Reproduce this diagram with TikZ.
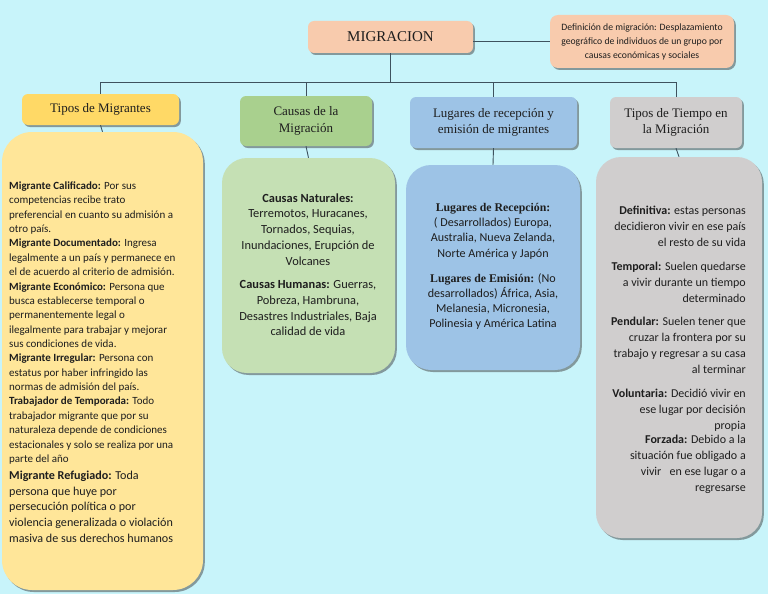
\documentclass[tikz,border=0pt]{standalone}
\usepackage{fontspec}
\setmainfont{Carlito}
\newfontfamily\serifhd{Liberation Serif}
\usetikzlibrary{shadows}
\definecolor{bg}{RGB}{200,244,250}
\definecolor{peach}{RGB}{248,203,173}
\definecolor{hdyellow}{RGB}{255,217,102}
\definecolor{lightyellow}{RGB}{255,230,153}
\definecolor{hdgreen}{RGB}{169,208,142}
\definecolor{lightgreen}{RGB}{197,224,180}
\definecolor{hdblue}{RGB}{157,195,230}
\definecolor{hdgray}{RGB}{208,206,206}
\definecolor{linecol}{RGB}{62,82,94}
\definecolor{txt}{RGB}{30,30,30}
\begin{document}
\begin{tikzpicture}[x=1pt,y=-1pt,
  shbox/.style={draw=none, inner sep=0pt, rounded corners=#1,
    drop shadow={shadow xshift=1.8pt, shadow yshift=-2pt, opacity=0.5, fill=black!75}},
  hdbox/.style={shbox=6pt, align=center, text=txt,
    font=\serifhd\fontsize{13}{16.5}\selectfont},
  conn/.style={draw=linecol, line width=0.9pt},
  bodytxt/.style={inner sep=0pt, text=txt},
]
\fill[bg] (0,0) rectangle (768,594);
\useasboundingbox (0,0) rectangle (768,594);

% top
\node[hdbox, fill=peach, minimum width=165pt, minimum height=32pt,
  font=\serifhd\fontsize{15}{18}\selectfont] (mig) at (390.5,37) {MIGRACION};
\node[shbox=8pt, fill=peach, minimum width=184pt, minimum height=53pt, align=center,
  text=txt, font=\fontsize{9.7}{14}\selectfont] (def) at (642,41.5)
  {Definición de migración: Desplazamiento\\geográfico de individuos de un grupo por\\causas económicas y sociales};

% headers
\node[hdbox, fill=hdyellow, minimum width=157pt, minimum height=31pt] (h1) at (100.5,109.5) {Tipos de Migrantes};
\node[hdbox, fill=hdgreen, minimum width=132pt, minimum height=50pt] (h2) at (306,121) {Causas de la\\Migración};
\node[hdbox, fill=hdblue, minimum width=167pt, minimum height=51pt] (h3) at (493.5,122.5) {Lugares de recepción y\\emisión de migrantes};
\node[hdbox, fill=hdgray, minimum width=132pt, minimum height=51pt] (h4) at (676,122.5) {Tipos de Tiempo en\\la Migración};

% content boxes
\node[shbox=30pt, fill=lightyellow, minimum width=201pt, minimum height=458pt] (c1) at (102.5,361) {};
\node[shbox=25pt, fill=lightgreen, minimum width=173pt, minimum height=215pt] (c2) at (308.5,265.5) {};
\node[shbox=25pt, fill=hdblue, minimum width=174pt, minimum height=205pt] (c3) at (493,267.5) {};
\node[shbox=25pt, fill=hdgray, minimum width=166pt, minimum height=381pt] (c4) at (679,347.5) {};

% connectors
\coordinate (busL) at (100.5,82);
\coordinate (busR) at (676,82);
\draw[conn] (mig.south) -- (mig.south |- busL);
\draw[conn] (busL) -- (busR);
\draw[conn] (busL) -- (h1.north);
\draw[conn] (h2.north |- busL) -- (h2.north);
\draw[conn] (h3.north |- busL) -- (h3.north);
\draw[conn] (busR) -- (h4.north);
\draw[conn] (mig.east |- def.west) -- (def.west);
\draw[conn] (h1.south) -- (c1.north);
\draw[conn] (h2.south) -- (c2.north);
\draw[conn] (h3.south) -- (c3.north);
\draw[conn] (h4.south) -- (c4.north);

% texts
\node[bodytxt, anchor=north west, align=left, font=\fontsize{11}{14.37}\selectfont] (t1a) at (9,181.5)
{\textbf{Migrante Calificado:} Por sus\\
competencias recibe trato\\
preferencial en cuanto su admisión a\\
otro país.\\
\textbf{Migrante Documentado:} Ingresa\\
legalmente a un país y permanece en\\
el de acuerdo al criterio de admisión.\\
\textbf{Migrante Económico:} Persona que\\
busca establecerse temporal o\\
permanentemente legal o\\
ilegalmente para trabajar y mejorar\\
sus condiciones de vida.\\
\textbf{Migrante Irregular:} Persona con\\
estatus por haber infringido las\\
normas de admisión del país.\\
\textbf{Trabajador de Temporada:} Todo\\
trabajador migrante que por su\\
naturaleza depende de condiciones\\
estacionales y solo se realiza por una\\
parte del año};
\node[bodytxt, anchor=north west, align=left, font=\fontsize{12.1}{15.75}\selectfont] (t1b) at (9,470.8)
{\textbf{Migrante Refugiado:} Toda\\
persona que huye por\\
persecución política o por\\
violencia generalizada o violación\\
masiva de sus derechos humanos};

\node[bodytxt, anchor=north, align=center, font=\fontsize{12.4}{15.7}\selectfont] (t2) at (308,193.3)
{\textbf{Causas Naturales:}\\
Terremotos, Huracanes,\\
Tornados, Sequias,\\
Inundaciones, Erupción de\\
Volcanes\\[8pt]
\textbf{Causas Humanas:} Guerras,\\
Pobreza, Hambruna,\\
Desastres Industriales, Baja\\
calidad de vida};

\node[bodytxt, anchor=north, align=center, font=\fontsize{12.1}{15.2}\selectfont] (t3) at (493,203)
{{\bfseries\serifhd\fontsize{11.8}{15.2}\selectfont Lugares de Recepción:}\\
( Desarrollados) Europa,\\
Australia, Nueva Zelanda,\\
Norte América y Japón\\[10pt]
{\bfseries\serifhd\fontsize{11.8}{15.2}\selectfont Lugares de Emisión:} (No\\
desarrollados) África, Asia,\\
Melanesia, Micronesia,\\
Polinesia y América Latina};

\node[bodytxt, anchor=north east, align=right, font=\fontsize{12}{16}\selectfont] (t4) at (746,205.5)
{\textbf{Definitiva:} estas personas\\
decidieron vivir en ese país\\
el resto de su vida\\[8pt]
\textbf{Temporal:} Suelen quedarse\\
a vivir durante un tiempo\\
determinado\\[7pt]
\textbf{Pendular:} Suelen tener que\\
cruzar la frontera por su\\
trabajo y regresar a su casa\\
al terminar\\[8pt]
\textbf{Voluntaria:} Decidió vivir en\\
ese lugar por decisión\\
propia\\[-2pt]
\textbf{Forzada:} Debido a la\\
situación fue obligado a\\
vivir\ \ \ en ese lugar o a\\
regresarse};
\end{tikzpicture}
\end{document}
